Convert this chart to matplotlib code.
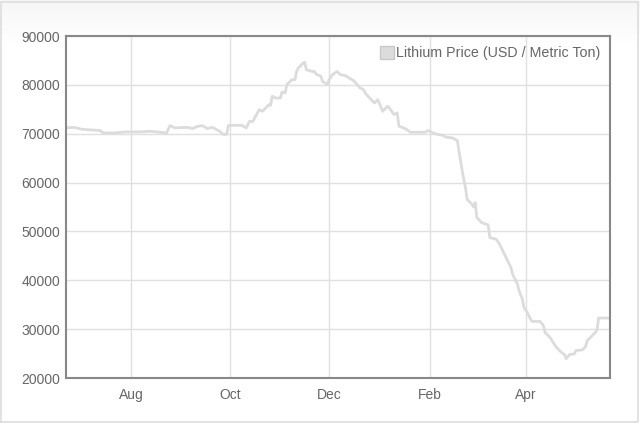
import numpy as np
import pandas as pd
import matplotlib
matplotlib.use('Agg')
import matplotlib.pyplot as plt
import matplotlib.dates as mdates
from matplotlib.patches import Rectangle

plt.rcParams['font.family'] = ['Liberation Sans', 'DejaVu Sans']

# lithium price (USD / metric ton)
dates = [
    '2022-06-22', '2022-06-27', '2022-07-02', '2022-07-13', '2022-07-15',
    '2022-07-22', '2022-07-29', '2022-08-07', '2022-08-13', '2022-08-19',
    '2022-08-23', '2022-08-25', '2022-08-28', '2022-09-05', '2022-09-08',
    '2022-09-11', '2022-09-14', '2022-09-17', '2022-09-20', '2022-09-24',
    '2022-09-27', '2022-09-29', '2022-09-30', '2022-10-08', '2022-10-11',
    '2022-10-13', '2022-10-15', '2022-10-19', '2022-10-21', '2022-10-22',
    '2022-10-25', '2022-10-26', '2022-10-27', '2022-10-29', '2022-11-01',
    '2022-11-02', '2022-11-04', '2022-11-05', '2022-11-08', '2022-11-10',
    '2022-11-11', '2022-11-12', '2022-11-15', '2022-11-16', '2022-11-17',
    '2022-11-20', '2022-11-22', '2022-11-23', '2022-11-26', '2022-11-27',
    '2022-11-30', '2022-12-01', '2022-12-03', '2022-12-06', '2022-12-08',
    '2022-12-11', '2022-12-14', '2022-12-16', '2022-12-18', '2022-12-20',
    '2022-12-22', '2022-12-24', '2022-12-26', '2022-12-28', '2022-12-29',
    '2022-12-31', '2023-01-03', '2023-01-06', '2023-01-07', '2023-01-10',
    '2023-01-12', '2023-01-13', '2023-01-15', '2023-01-18', '2023-01-20',
    '2023-01-29', '2023-01-31', '2023-02-03', '2023-02-06', '2023-02-09',
    '2023-02-11', '2023-02-15', '2023-02-18', '2023-02-19', '2023-02-21',
    '2023-02-22', '2023-02-23', '2023-02-24', '2023-02-27', '2023-02-28',
    '2023-03-01', '2023-03-02', '2023-03-05', '2023-03-09', '2023-03-10',
    '2023-03-14', '2023-03-16', '2023-03-18', '2023-03-21', '2023-03-23',
    '2023-03-24', '2023-03-27', '2023-03-28', '2023-03-30', '2023-03-31',
    '2023-04-02', '2023-04-04', '2023-04-05', '2023-04-10', '2023-04-12',
    '2023-04-13', '2023-04-16', '2023-04-18', '2023-04-20', '2023-04-23',
    '2023-04-25', '2023-04-26', '2023-04-28', '2023-05-01', '2023-05-02',
    '2023-05-06', '2023-05-08', '2023-05-09', '2023-05-12', '2023-05-14',
    '2023-05-15', '2023-05-16', '2023-05-21', '2023-05-23',
]
prices = [
    71200, 71300, 70900, 70650, 70150,
    70150, 70370, 70370, 70500, 70300,
    70150, 71670, 71200, 71300, 71050,
    71500, 71650, 71050, 71300, 70650,
    69830, 69900, 71700, 71730, 71180,
    72550, 72500, 74930, 74590, 74930,
    75960, 75800, 77650, 77300, 77300,
    78540, 78400, 80030, 81050, 81050,
    82750, 83430, 84450, 84650, 83100,
    82800, 82700, 82200, 81730, 80700,
    80030, 81050, 82070, 82750, 82070,
    81900, 81250, 80900, 80170, 79350,
    79100, 78000, 77300, 76630, 76300,
    76970, 74590, 75610, 75300, 73920,
    74250, 71530, 71300, 70850, 70300,
    70300, 70650, 70170, 69830, 69690,
    69280, 69140, 68600, 66430, 62350,
    60650, 58940, 56570, 55550, 55000,
    55880, 52820, 51800, 51330, 48740,
    48400, 47380, 46020, 43980, 42610,
    41260, 39220, 37860, 36160, 34450,
    33430, 32080, 31590, 31590, 30710,
    29350, 28330, 27310, 26290, 25270,
    24800, 23920, 24800, 24940, 25610,
    25750, 26430, 27650, 28670, 29350,
    29830, 32280, 32280, 32200,
]
series_label = 'Lithium Price (USD / Metric Ton)'
y_ticks = [20000, 30000, 40000, 50000, 60000, 70000, 80000, 90000]

dates = pd.to_datetime(dates)

fig = plt.figure(figsize=(6.4, 4.24), dpi=100)
fig.patch.set_facecolor('white')

# faint grey band at the top of the frame, fading to white
bg = fig.add_axes([0, 0, 1, 1], zorder=-10)
grad = np.ones((424, 1))
grad[:45, 0] = np.linspace(0.965, 1.0, 45)
bg.imshow(np.dstack([grad, grad, grad]), aspect='auto', extent=[0, 1, 0, 1])
bg.plot([0.002, 0.002, 0.997, 0.997, 0.002], [0.005, 0.995, 0.995, 0.005, 0.005],
        color='#dddddd', lw=1.2)
bg.set_xlim(0, 1)
bg.set_ylim(0, 1)
bg.axis('off')

ax = fig.add_axes([66 / 640, 1 - 378 / 424, 544 / 640, 342 / 424])
ax.set_facecolor('white')
ax.plot(dates, prices, color='#dcdcdc', lw=2.0)

ax.set_xlim(pd.Timestamp('2022-06-22'), pd.Timestamp('2023-05-23'))
ax.set_ylim(20000, 90000)
ax.set_yticks(y_ticks)
ax.xaxis.set_major_locator(mdates.MonthLocator(bymonth=[2, 4, 8, 10, 12]))
ax.xaxis.set_major_formatter(mdates.DateFormatter('%b'))

ax.grid(True, color='#e0e0e0', lw=1.0)
ax.set_axisbelow(True)
for sp in ax.spines.values():
    sp.set_color('#888888')
    sp.set_linewidth(1.5)
ax.tick_params(length=0, labelsize=10, colors='#666666')
ax.tick_params(axis='x', pad=7)
ax.tick_params(axis='y', pad=4)

# legend key drawn as a small filled box
key = Rectangle((0, 0), 1, 1, facecolor='#dcdcdc', edgecolor='#c8c8c8', lw=1)
ax.legend([key], [series_label], loc='upper right', frameon=False,
          fontsize=10.3, handlelength=1.0, handleheight=1.0,
          handletextpad=0.1, borderaxespad=0.3, labelcolor='#666666')

fig.savefig('out.png', dpi=100)
